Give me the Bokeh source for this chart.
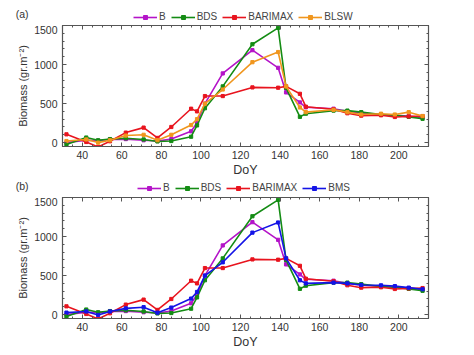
from bokeh.plotting import figure
from bokeh.layouts import column
from bokeh.models import (Range1d, LinearAxis, Legend, LegendItem, FixedTicker,
                          CustomJSTickFormatter)
from bokeh.embed import file_html
from bokeh.resources import INLINE

doy = [32, 42, 48, 54, 62, 71, 78, 85, 95, 98, 102, 111, 126, 139, 143, 150, 153, 167, 174, 181, 191, 198, 205, 212]
b_vals = [0, 30, 25, 40, 45, 30, 20, 45, 145, 250, 500, 886, 1184, 958, 643, 515, 452, 434, 400, 380, 360, 350, 340, 320]
bds_vals = [-25, 65, 30, 45, 55, 40, 15, 20, 75, 220, 440, 720, 1260, 1470, 700, 330, 370, 410, 410, 390, 360, 350, 330, 305]
barimax_vals = [106, 8, -55, 17, 128, 192, 60, 200, 434, 400, 596, 596, 707, 703, 720, 625, 460, 427, 376, 345, 350, 328, 335, 340]
blsw_vals = [20, 40, 0, 30, 90, 100, 30, 100, 225, 300, 500, 680, 1030, 1160, 720, 450, 390, 420, 390, 360, 370, 360, 390, 340]
bms_vals = [25, 40, -5, 40, 80, 95, 25, 90, 205, 290, 500, 670, 1050, 1180, 720, 440, 400, 410, 400, 380, 375, 365, 345, 325]

x_ticks = [40, 60, 80, 100, 120, 140, 160, 180, 200]
y_ticks = [0, 500, 1000, 1500]

FONT = "Liberation Sans"
AX = "#555555"
TXT = "#333333"
W = 458


def style_axis(ax):
    ax.axis_line_color = AX
    ax.major_tick_in = 4
    ax.major_tick_out = 0
    ax.minor_tick_in = 2
    ax.minor_tick_out = 0
    ax.major_tick_line_color = AX
    ax.minor_tick_line_color = AX


def add_series(p, series):
    out = []
    for name, vals, color in series:
        ln = p.line(doy, vals, line_color=color, line_width=1.6)
        sc = p.scatter(doy, vals, marker="square", size=3.2, fill_color=color, line_color=color)
        out.append((name, ln, sc))
    return out


def make_strip(tag, series, height, legend_x, legend_y):
    # header strip holding the legend and panel tag; its ranges exclude the data
    s = figure(width=W, height=height, output_backend="svg", toolbar_location=None,
               x_range=Range1d(0, 1), y_range=Range1d(0, 1), x_axis_location=None,
               y_axis_location="left", min_border=0, min_border_left=62, title=None)
    s.grid.visible = False
    s.outline_line_color = None
    ya = s.yaxis[0]
    ya.ticker = FixedTicker(ticks=[0], minor_ticks=[])
    ya.major_label_overrides = {0: tag}
    ya.axis_line_color = None
    ya.major_tick_line_color = None
    ya.minor_tick_line_color = None
    ya.major_label_standoff = 28
    ya.major_label_text_font = FONT
    ya.major_label_text_font_size = "10.5px"
    ya.major_label_text_color = TXT
    ya.major_label_text_baseline = "middle"

    rs = add_series(s, series)
    items = [LegendItem(label=n, renderers=[ln, sc]) for n, ln, sc in rs]
    legend = Legend(items=items, orientation="horizontal", location=(legend_x, legend_y),
                    glyph_width=24, glyph_height=10, label_text_font=FONT,
                    label_text_font_size="10px", label_standoff=2, spacing=5,
                    padding=0, margin=0, label_height=10, label_width=5,
                    border_line_alpha=0, background_fill_alpha=0)
    s.add_layout(legend, "center")
    return s


def make_panel(series):
    p = figure(width=W, frame_height=121, output_backend="svg", toolbar_location=None,
               x_range=Range1d(30, 215), y_range=Range1d(-50, 1500), title=None,
               min_border_left=62, min_border_right=30, min_border_top=0,
               min_border_bottom=30)
    p.grid.visible = False
    p.outline_line_color = AX
    p.outline_line_width = 1.2

    xminor = list(range(30, 216, 5))
    yminor = list(range(0, 1501, 100))
    for ax in (p.xaxis[0], p.yaxis[0]):
        style_axis(ax)
        ax.major_label_text_font = FONT
        ax.major_label_text_font_size = "10.5px"
        ax.major_label_text_color = TXT
        ax.axis_label_text_font = FONT
        ax.axis_label_text_font_style = "normal"
        ax.axis_label_text_color = TXT
    p.xaxis.ticker = FixedTicker(ticks=x_ticks, minor_ticks=xminor)
    p.yaxis.ticker = FixedTicker(ticks=y_ticks, minor_ticks=yminor)
    p.xaxis.axis_label = "DoY"
    p.xaxis.axis_label_text_font_size = "12.5px"
    p.xaxis.axis_label_standoff = 1
    p.xaxis.major_label_standoff = 4
    p.yaxis.axis_label = "Biomass (gr.m\u207b\u00b2)"
    p.yaxis.axis_label_text_font_size = "11px"
    p.yaxis.axis_label_standoff = 2
    p.yaxis.major_label_standoff = 5

    blank = CustomJSTickFormatter(code="return ''")
    top = LinearAxis(ticker=FixedTicker(ticks=x_ticks, minor_ticks=xminor), formatter=blank)
    right = LinearAxis(ticker=FixedTicker(ticks=y_ticks, minor_ticks=yminor), formatter=blank)
    for ax in (top, right):
        style_axis(ax)
        ax.major_label_standoff = 0
        ax.major_label_text_font_size = "2px"
    p.add_layout(top, "above")
    p.add_layout(right, "right")

    add_series(p, series)
    return p


series_a = [("B", b_vals, "#b414c8"), ("BDS", bds_vals, "#148c14"),
            ("BARIMAX", barimax_vals, "#e8141e"), ("BLSW", blsw_vals, "#f0961e")]
series_b = [("B", b_vals, "#b414c8"), ("BDS", bds_vals, "#148c14"),
            ("BARIMAX", barimax_vals, "#e8141e"), ("BMS", bms_vals, "#1414e6")]

s1 = make_strip("(a)", series_a, 25, 71, 3)
p1 = make_panel(series_a)
s2 = make_strip("(b)", series_b, 18, 75, 4)
p2 = make_panel(series_b)

layout = column(s1, p1, s2, p2, spacing=0)
open("out.html", "w").write(file_html(layout, INLINE))
